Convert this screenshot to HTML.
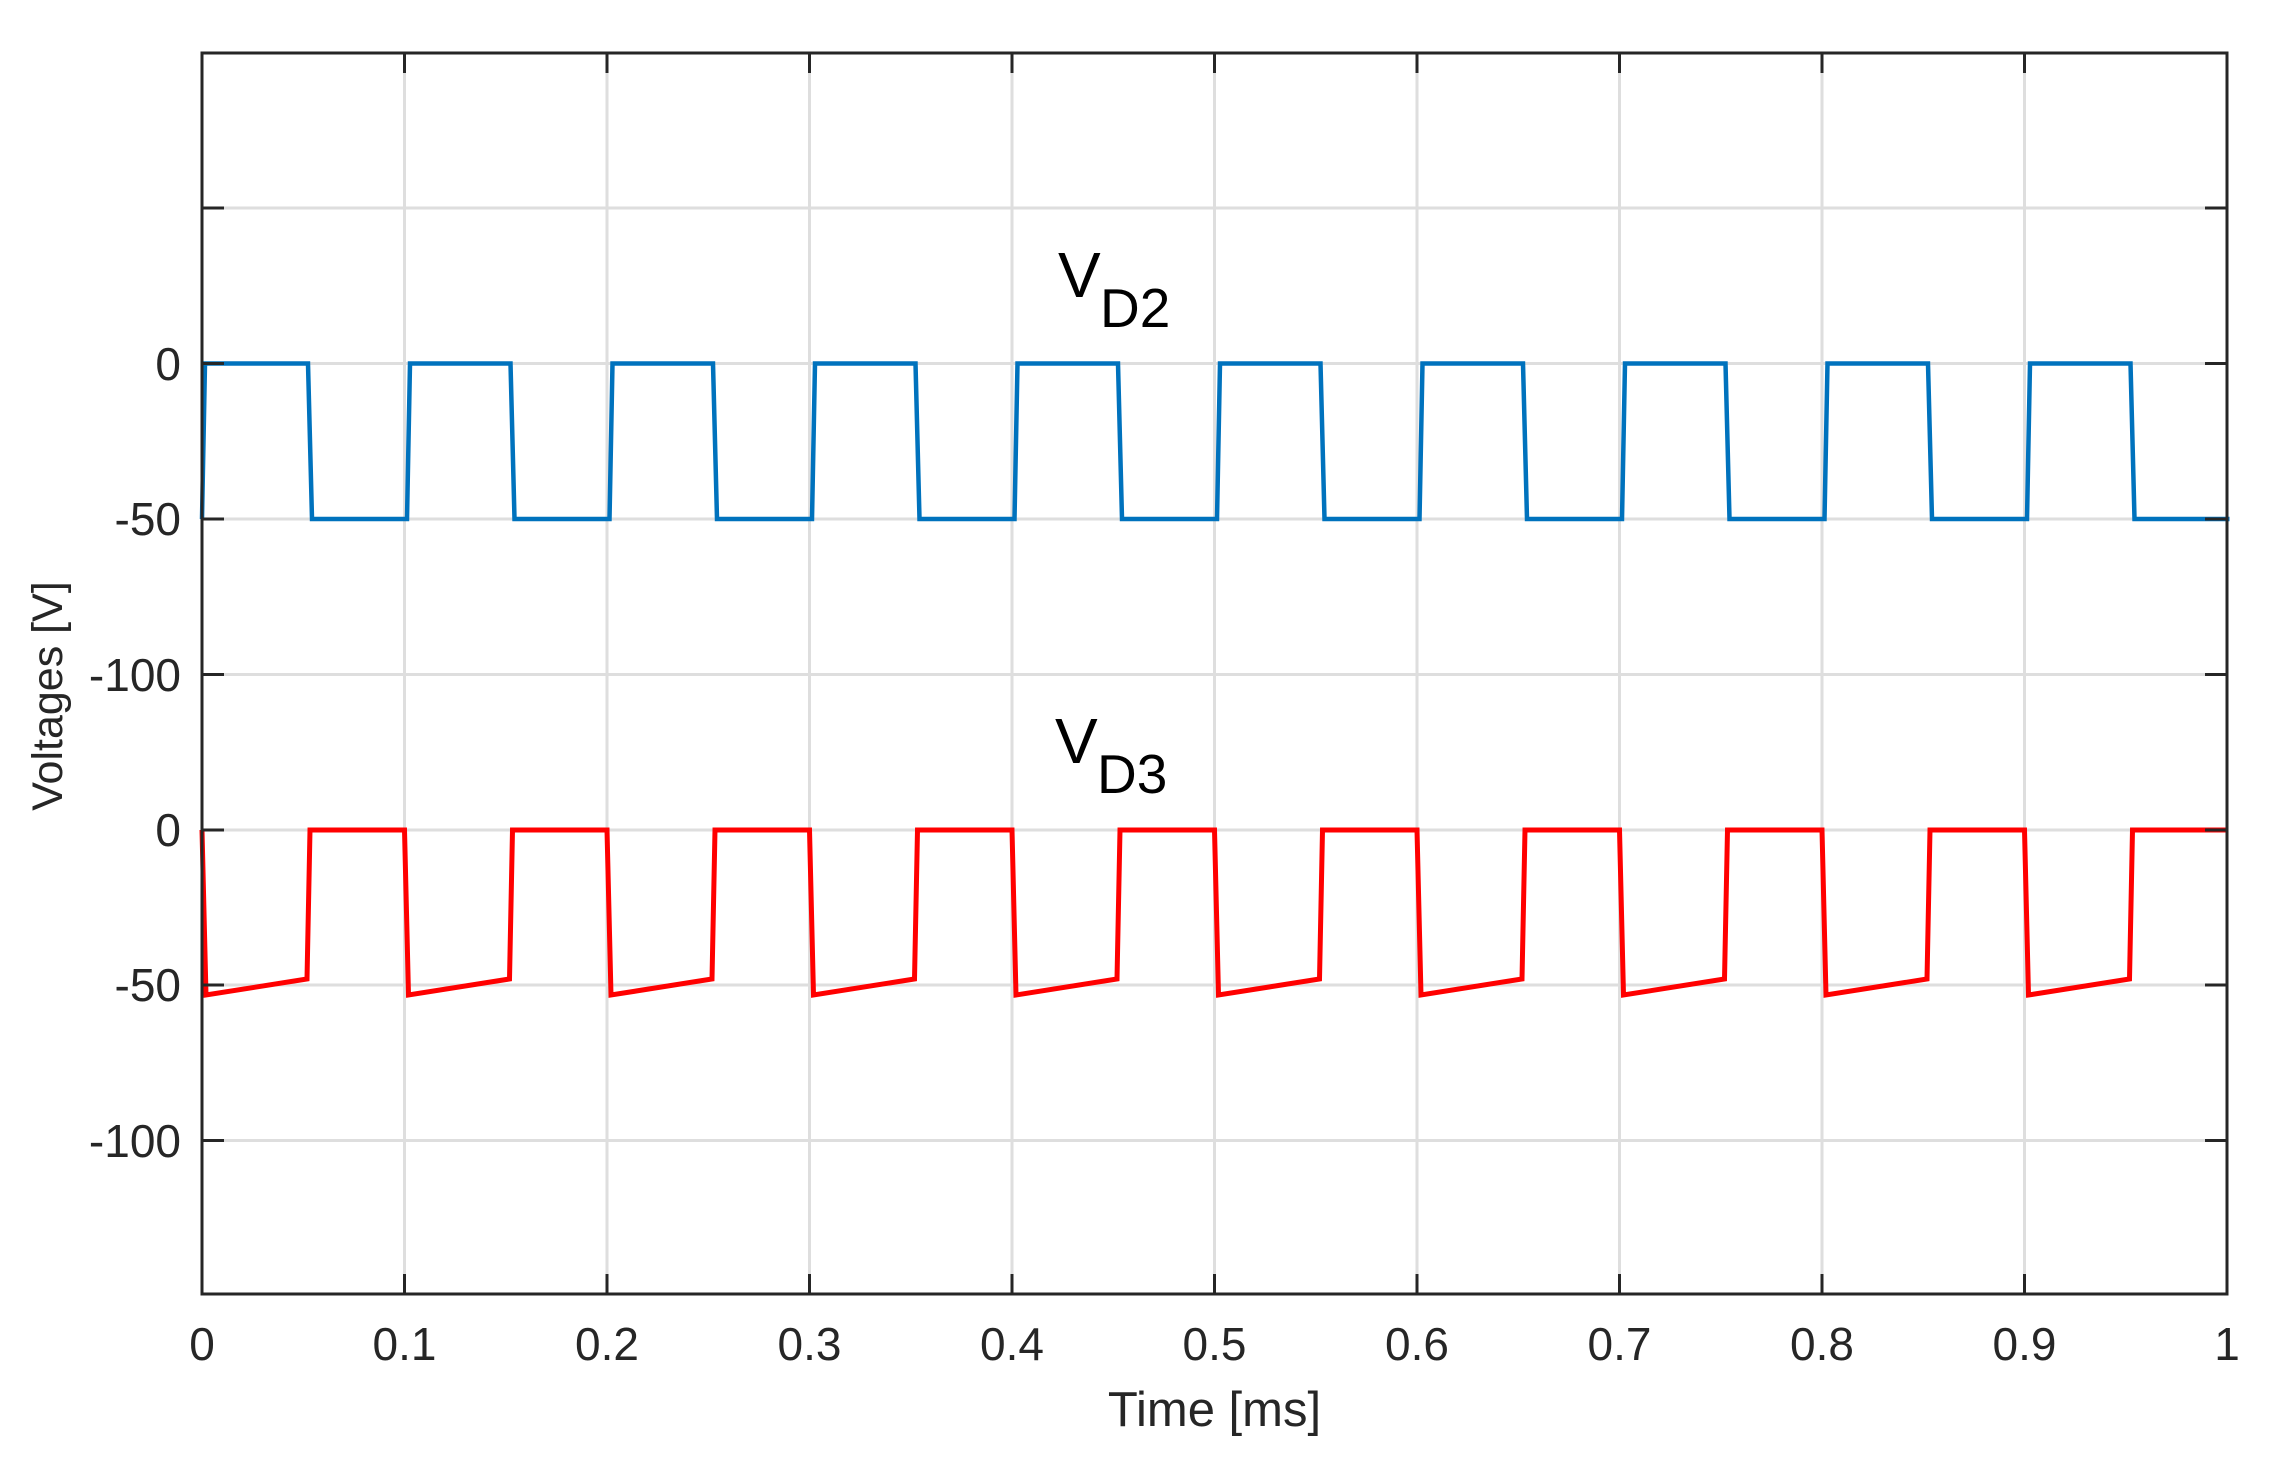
<!DOCTYPE html>
<html><head><meta charset="utf-8"><style>
html,body{margin:0;padding:0;background:#fff;}
svg{display:block;}
text{font-family:"Liberation Sans",Arial,sans-serif;fill:#262626;}
</style></head><body>
<svg width="2274" height="1463" viewBox="0 0 2274 1463" xmlns="http://www.w3.org/2000/svg">
<rect width="2274" height="1463" fill="#fff"/>
<g stroke="#dedede" stroke-width="3">
<line x1="404.5" y1="53" x2="404.5" y2="1294"/>
<line x1="607" y1="53" x2="607" y2="1294"/>
<line x1="809.5" y1="53" x2="809.5" y2="1294"/>
<line x1="1012" y1="53" x2="1012" y2="1294"/>
<line x1="1214.5" y1="53" x2="1214.5" y2="1294"/>
<line x1="1417" y1="53" x2="1417" y2="1294"/>
<line x1="1619.5" y1="53" x2="1619.5" y2="1294"/>
<line x1="1822" y1="53" x2="1822" y2="1294"/>
<line x1="2024.5" y1="53" x2="2024.5" y2="1294"/>
<line x1="202" y1="208" x2="2227" y2="208"/>
<line x1="202" y1="363.5" x2="2227" y2="363.5"/>
<line x1="202" y1="519" x2="2227" y2="519"/>
<line x1="202" y1="674.5" x2="2227" y2="674.5"/>
<line x1="202" y1="830" x2="2227" y2="830"/>
<line x1="202" y1="985" x2="2227" y2="985"/>
<line x1="202" y1="1140.5" x2="2227" y2="1140.5"/>
</g>
<path fill="none" stroke="#0072BD" stroke-width="4.5" stroke-linejoin="miter" d="M202,519 L205,363.5 L308,363.5 L312,519 L407,519 l3,-155.5 l100.5,0 l4,155.5 l95,0 l3,-155.5 l100.5,0 l4,155.5 l95,0 l3,-155.5 l100.5,0 l4,155.5 l95,0 l3,-155.5 l100.5,0 l4,155.5 l95,0 l3,-155.5 l100.5,0 l4,155.5 l95,0 l3,-155.5 l100.5,0 l4,155.5 l95,0 l3,-155.5 l100.5,0 l4,155.5 l95,0 l3,-155.5 l100.5,0 l4,155.5 l95,0 l3,-155.5 l100.5,0 l4,155.5 l95,0"/>
<path fill="none" stroke="#FF0000" stroke-width="5" stroke-linejoin="miter" d="M202,830 l4,165 l101,-16 l3,-149 l94.5,0 l4,165 l101,-16 l3,-149 l94.5,0 l4,165 l101,-16 l3,-149 l94.5,0 l4,165 l101,-16 l3,-149 l94.5,0 l4,165 l101,-16 l3,-149 l94.5,0 l4,165 l101,-16 l3,-149 l94.5,0 l4,165 l101,-16 l3,-149 l94.5,0 l4,165 l101,-16 l3,-149 l94.5,0 l4,165 l101,-16 l3,-149 l94.5,0 l4,165 l101,-16 l3,-149 l94.5,0"/>
<g stroke="#262626" stroke-width="3">
<rect x="202" y="53" width="2025" height="1241" fill="none"/>
<path d="M404.5,53v20M607,53v20M809.5,53v20M1012,53v20M1214.5,53v20M1417,53v20M1619.5,53v20M1822,53v20M2024.5,53v20
M404.5,1294v-20M607,1294v-20M809.5,1294v-20M1012,1294v-20M1214.5,1294v-20M1417,1294v-20M1619.5,1294v-20M1822,1294v-20M2024.5,1294v-20
M202,208h22M202,363.5h22M202,519h22M202,674.5h22M202,830h22M202,985h22M202,1140.5h22
M2227,208h-22M2227,363.5h-22M2227,519h-22M2227,674.5h-22M2227,830h-22M2227,985h-22M2227,1140.5h-22"/>
</g>
<g font-size="46" text-anchor="end">
<text x="181" y="380">0</text>
<text x="181" y="535">-50</text>
<text x="181" y="691">-100</text>
<text x="181" y="846">0</text>
<text x="181" y="1001">-50</text>
<text x="181" y="1157">-100</text>
</g>
<g font-size="46" text-anchor="middle">
<text x="202" y="1360">0</text>
<text x="404.5" y="1360">0.1</text>
<text x="607" y="1360">0.2</text>
<text x="809.5" y="1360">0.3</text>
<text x="1012" y="1360">0.4</text>
<text x="1214.5" y="1360">0.5</text>
<text x="1417" y="1360">0.6</text>
<text x="1619.5" y="1360">0.7</text>
<text x="1822" y="1360">0.8</text>
<text x="2024.5" y="1360">0.9</text>
<text x="2227" y="1360">1</text>
<text x="1214.5" y="1426" font-size="49">Time [ms]</text>
<text x="0" y="0" font-size="43" transform="translate(62,696) rotate(-90)">Voltages [V]</text>
</g>
<g>
<text x="1058" y="297" font-size="64" style="fill:#000">V</text>
<text x="1100" y="327" font-size="55" style="fill:#000">D2</text>
<text x="1055" y="763" font-size="64" style="fill:#000">V</text>
<text x="1097" y="793" font-size="55" style="fill:#000">D3</text>
</g>
</svg>
</body></html>
